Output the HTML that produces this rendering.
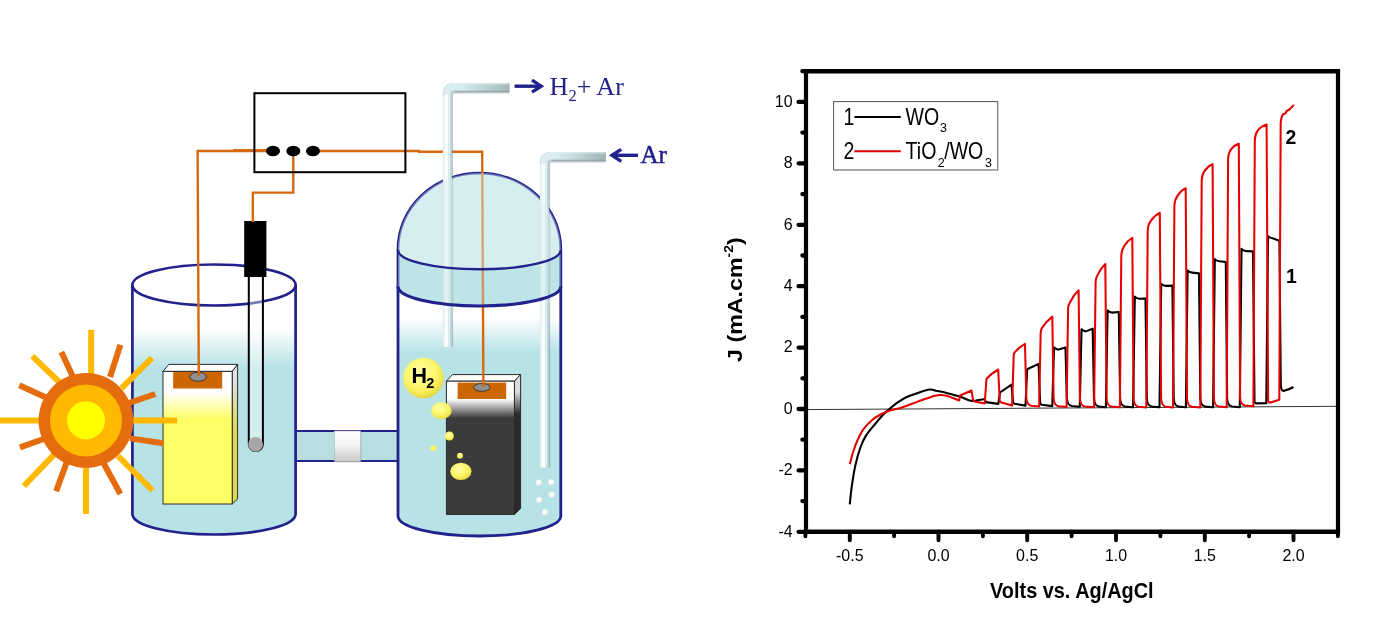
<!DOCTYPE html>
<html lang="en"><head><meta charset="utf-8"><title>Photoelectrochemical cell and J-V curves</title>
<style>html,body{margin:0;padding:0;background:#fff;}body{width:1388px;height:627px;overflow:hidden;font-family:"Liberation Sans",sans-serif;}svg{display:block;}text{font-family:"Liberation Sans",sans-serif;}.serif{font-family:"Liberation Serif",serif;}</style>
</head><body>
<svg width="1388" height="627" viewBox="0 0 1388 627">
<defs>
<linearGradient id="gWaterL" gradientUnits="userSpaceOnUse" x1="0" y1="328" x2="0" y2="368"><stop offset="0" stop-color="#ffffff"/><stop offset="1" stop-color="#b7e3e7"/></linearGradient>
<linearGradient id="gWaterR" gradientUnits="userSpaceOnUse" x1="0" y1="318" x2="0" y2="352"><stop offset="0" stop-color="#ffffff"/><stop offset="1" stop-color="#b7e3e7"/></linearGradient>
<linearGradient id="gYellow" gradientUnits="userSpaceOnUse" x1="0" y1="392" x2="0" y2="420"><stop offset="0" stop-color="#ffffff"/><stop offset="1" stop-color="#ffff66"/></linearGradient>
<linearGradient id="gYellowS" gradientUnits="userSpaceOnUse" x1="0" y1="385" x2="0" y2="430"><stop offset="0" stop-color="#e0e0e0"/><stop offset="1" stop-color="#dcd84e"/></linearGradient>
<linearGradient id="gDark" gradientUnits="userSpaceOnUse" x1="0" y1="399" x2="0" y2="418"><stop offset="0" stop-color="#ffffff"/><stop offset="1" stop-color="#3b3b3b"/></linearGradient>
<linearGradient id="gDarkS" gradientUnits="userSpaceOnUse" x1="0" y1="392" x2="0" y2="414"><stop offset="0" stop-color="#dcdcdc"/><stop offset="1" stop-color="#2a2a2a"/></linearGradient>
<linearGradient id="gMem" x1="0" y1="0" x2="0" y2="1"><stop offset="0" stop-color="#ffffff"/><stop offset="0.45" stop-color="#f4f4f4"/><stop offset="1" stop-color="#c9c9c9"/></linearGradient>
<linearGradient id="gTubeH1" gradientUnits="userSpaceOnUse" x1="451" y1="0" x2="509" y2="0"><stop offset="0" stop-color="#d3ebef" stop-opacity="0"/><stop offset="0.25" stop-color="#cfe6ea" stop-opacity="0.9"/><stop offset="1" stop-color="#a3b8b9"/></linearGradient>
<linearGradient id="gTubeH2" gradientUnits="userSpaceOnUse" x1="548" y1="0" x2="606" y2="0"><stop offset="0" stop-color="#d3ebef" stop-opacity="0"/><stop offset="0.25" stop-color="#cfe6ea" stop-opacity="0.9"/><stop offset="1" stop-color="#9db2b3"/></linearGradient>
<linearGradient id="gTubeV" x1="0" y1="0" x2="1" y2="0"><stop offset="0" stop-color="#d9e6ea"/><stop offset="0.35" stop-color="#ffffff"/><stop offset="0.7" stop-color="#dff0f3"/><stop offset="1" stop-color="#b4c9cf"/></linearGradient>
<radialGradient id="gBub" cx="0.42" cy="0.36" r="0.68"><stop offset="0" stop-color="#ffffa6"/><stop offset="0.6" stop-color="#fbf467"/><stop offset="0.88" stop-color="#eedf48"/><stop offset="1" stop-color="#d9c93c"/></radialGradient>
<radialGradient id="gWB" cx="0.38" cy="0.36" r="0.75"><stop offset="0" stop-color="#ffffff"/><stop offset="0.6" stop-color="#f4f6f6"/><stop offset="1" stop-color="#c4cfd1"/></radialGradient>
<filter id="jpg" filterUnits="userSpaceOnUse" x="0" y="0" width="1388" height="627"><feGaussianBlur stdDeviation="0.42"/></filter>
<filter id="soft" x="-20%" y="-20%" width="140%" height="140%"><feGaussianBlur stdDeviation="0.6"/></filter>
</defs>
<rect x="0" y="0" width="1388" height="627" fill="#ffffff"/>
<g filter="url(#jpg)">
<g id="cell">
<path d="M132.4,285 L132.4,514 A81.60000000000001,20.5 0 0 0 295.6,514 L295.6,285 Z" fill="url(#gWaterL)"/>
<rect x="295.6" y="431" width="102.39999999999998" height="30" fill="#b9dee2"/>
<path d="M295.6,431 H398 M295.6,461 H398" stroke="#21218c" stroke-width="2" fill="none"/>
<rect x="335.4" y="432.4" width="26" height="30" fill="#8c8c8c" opacity="0.45" filter="url(#soft)"/>
<rect x="334.6" y="431" width="26" height="30.4" fill="url(#gMem)" stroke="#b5b5b5" stroke-width="0.6"/>
<path d="M132.4,285 L132.4,514 A81.60000000000001,20.5 0 0 0 295.6,514 L295.6,285" fill="none" stroke="#21218c" stroke-width="2.7"/>
<ellipse cx="214.0" cy="285" rx="81.60000000000001" ry="20.5" fill="#ffffff" stroke="#21218c" stroke-width="2.7"/>
<path d="M163,371.4 L168.8,364.4 L237.6,364.4 L232.2,371.4 Z" fill="#ffffff" stroke="#2a2a2a" stroke-width="1"/>
<path d="M232.2,371.4 L237.6,364.4 L237.6,499 L232.2,504 Z" fill="url(#gYellowS)" stroke="#2a2a2a" stroke-width="1"/>
<rect x="163" y="371.4" width="69.2" height="132.6" fill="url(#gYellow)" stroke="#2a2a2a" stroke-width="1"/>
<rect x="173.2" y="372" width="49" height="16.5" fill="#cc6600"/>
<ellipse cx="198.1" cy="376.8" rx="8.5" ry="4.4" fill="#8f8f8f" stroke="#3a3a3a" stroke-width="1"/>
<path d="M248.8,276 L248.8,444 A6.2,6.2 0 0 0 262.9,444 L262.9,276" fill="#ffffff" fill-opacity="0.4" stroke="#000" stroke-width="2"/>
<circle cx="255.6" cy="444.3" r="7.4" fill="#a6a6a6"/>
<rect x="244.2" y="221" width="22.2" height="56" fill="#000"/>
<path d="M398.0,285.5 L398.0,516 A81.39999999999998,20 0 0 0 560.8,516 L560.8,285.5 A81.39999999999998,19.5 0 0 1 398.0,285.5 Z" fill="url(#gWaterR)"/>
<path d="M398.0,249 A81.39999999999998,19.3 0 0 0 560.8,249 L560.8,285.5 A81.39999999999998,19.5 0 0 1 398.0,285.5 Z" fill="#bde4e7"/>
<path d="M398.0,249 A81.39999999999998,76 0 0 1 560.8,249 A81.39999999999998,19.3 0 0 1 398.0,249 Z" fill="#d6eef0"/>
<path d="M398.0,249 A81.39999999999998,76 0 0 1 560.8,249" fill="none" stroke="#21218c" stroke-width="2.7"/>
<path d="M398.0,249 L398.0,516 A81.39999999999998,20 0 0 0 560.8,516 L560.8,249" fill="none" stroke="#21218c" stroke-width="2.8"/>
<path d="M446.4,381.2 L452.4,374.6 L520.6,374.6 L514.4,381.2 Z" fill="#ffffff" stroke="#2a2a2a" stroke-width="1"/>
<path d="M514.4,381.2 L520.6,374.6 L520.6,508.6 L514.4,514.4 Z" fill="url(#gDarkS)" stroke="#2a2a2a" stroke-width="1"/>
<rect x="446.4" y="381.2" width="68" height="133.2" fill="url(#gDark)" stroke="#2a2a2a" stroke-width="1"/>
<rect x="457.6" y="382.6" width="48.6" height="16.4" fill="#cc6600"/>
<ellipse cx="481.9" cy="387.4" rx="8.2" ry="3.9" fill="#8f8f8f" stroke="#3a3a3a" stroke-width="1"/>
<g fill="none" stroke="#d8680e" stroke-width="2.4" stroke-linejoin="miter">
<path d="M268,151 L197.6,151 L198.8,376"/>
<path d="M233,150.4 L268,150.4" stroke-width="2.6"/>
<path d="M293.3,151 L293.3,192.6 L252.8,192.6 L252.8,222"/>
<path d="M320,151 L419,151 L419,151.8 L482.2,151.8 L483.4,387"/>
</g>
<rect x="254.4" y="93.2" width="151" height="79" fill="none" stroke="#000" stroke-width="2"/>
<ellipse cx="273" cy="151" rx="7" ry="5.3" fill="#000"/><ellipse cx="293.3" cy="151" rx="7" ry="5.3" fill="#000"/><ellipse cx="313" cy="151" rx="7" ry="5.3" fill="#000"/>
<path d="M509.4,88.9 H454.59999999999997 Q448.59999999999997,88.9 448.59999999999997,94.9 V346.8" fill="none" stroke="#5f7278" stroke-width="9" opacity="0.4" filter="url(#soft)"/>
<path d="M509.4,87.5 H453.4 Q447.4,87.5 447.4,93.5 V346.8" fill="none" stroke="#bdd1d7" stroke-width="9"/>
<path d="M509.4,87.1 H452.9 Q446.9,87.1 446.9,93.1 V346.8" fill="none" stroke="#dcedf1" stroke-width="6.8"/>
<path d="M446.2,94.5 V346.8" fill="none" stroke="#fbfefe" stroke-width="3.4"/>
<path d="M443.79999999999995,95.5 V346.8" fill="none" stroke="#e9f1f3" stroke-width="1.4"/>
<rect x="451.4" y="83.0" width="58.0" height="9" fill="url(#gTubeH1)"/>
<path d="M452.4,83.9 H508.9" stroke="#eaf5f7" stroke-width="1.3" opacity="0.7"/>
<path d="M454.4,91.4 H509.4" stroke="#879b9f" stroke-width="1.3" opacity="0.7"/>
<path d="M605.8,157.9 H551.6 Q545.6,157.9 545.6,163.9 V467.4" fill="none" stroke="#5f7278" stroke-width="9" opacity="0.4" filter="url(#soft)"/>
<path d="M605.8,156.5 H550.4 Q544.4,156.5 544.4,162.5 V467.4" fill="none" stroke="#bdd1d7" stroke-width="9"/>
<path d="M605.8,156.1 H549.9 Q543.9,156.1 543.9,162.1 V467.4" fill="none" stroke="#dcedf1" stroke-width="6.8"/>
<path d="M543.1999999999999,163.5 V467.4" fill="none" stroke="#fbfefe" stroke-width="3.4"/>
<path d="M540.8,164.5 V467.4" fill="none" stroke="#e9f1f3" stroke-width="1.4"/>
<rect x="548.4" y="152.0" width="57.39999999999998" height="9" fill="url(#gTubeH2)"/>
<path d="M549.4,152.9 H605.3" stroke="#eaf5f7" stroke-width="1.3" opacity="0.7"/>
<path d="M551.4,160.4 H605.8" stroke="#879b9f" stroke-width="1.3" opacity="0.7"/>
<path d="M398.0,249 A81.39999999999998,76 0 0 1 560.8,249 A81.39999999999998,19.3 0 0 1 398.0,249 Z" fill="#d6eef0" fill-opacity="0.45"/>
<path d="M398.0,249 A81.39999999999998,19.3 0 0 0 560.8,249 L560.8,285.5 A81.39999999999998,19.5 0 0 1 398.0,285.5 Z" fill="#bde4e7" fill-opacity="0.4"/>
<path d="M398.0,250 A81.39999999999998,19.3 0 0 0 560.8,250" fill="none" stroke="#21218c" stroke-width="2.4"/>
<path d="M398.0,286.5 A81.39999999999998,19.5 0 0 0 560.8,286.5" fill="none" stroke="#21218c" stroke-width="3.2"/>
<g fill="none" stroke="#21218c" stroke-width="3.4" stroke-linejoin="miter">
<path d="M514.6,86.2 H541"/><path d="M532,80.2 L541.2,86.2 L532,92.2"/>
<path d="M638,155.3 H612"/><path d="M621.2,149.3 L612,155.3 L621.2,161.3"/>
</g>
<text class="serif" x="549.6" y="95.4" font-size="26" fill="#21218c">H<tspan font-size="16.5" dy="5.5">2</tspan><tspan dy="-5.5">+ Ar</tspan></text>
<text class="serif" x="640.4" y="163.4" font-size="25" fill="#21218c" stroke="#21218c" stroke-width="0.5">Ar</text>
<circle cx="423.4" cy="378" r="20.2" fill="url(#gBub)"/>
<text x="411.4" y="383.4" font-size="21.5" font-weight="bold" fill="#000">H<tspan font-size="14.5" dy="4.6" dx="-0.6">2</tspan></text>
<ellipse cx="441.4" cy="410.8" rx="10.3" ry="8.5" fill="url(#gBub)"/>
<circle cx="449.4" cy="436" r="4.5" fill="url(#gBub)"/>
<circle cx="433.3" cy="448.2" r="3" fill="#fbf56a"/>
<circle cx="460" cy="455.8" r="3" fill="url(#gBub)"/>
<ellipse cx="460.9" cy="471.3" rx="10.6" ry="8.6" fill="url(#gBub)"/>
<circle cx="538.9" cy="482.7" r="3.2" fill="url(#gWB)"/>
<circle cx="551.5" cy="482.4" r="3.2" fill="url(#gWB)"/>
<circle cx="551.9" cy="495.0" r="3.2" fill="url(#gWB)"/>
<circle cx="539.4" cy="500.2" r="3.2" fill="url(#gWB)"/>
<circle cx="545.1" cy="512.4" r="3.2" fill="url(#gWB)"/>
<line x1="91.2" y1="375" x2="91.2" y2="329.8" stroke="#ffb900" stroke-width="6"/>
<line x1="110.0" y1="377" x2="120.4" y2="344.9" stroke="#e46c0a" stroke-width="6"/>
<line x1="121.5" y1="388.3" x2="152" y2="357.9" stroke="#ffb900" stroke-width="6"/>
<line x1="129" y1="403" x2="155.4" y2="394" stroke="#e46c0a" stroke-width="6"/>
<line x1="131" y1="420.4" x2="177.2" y2="420.4" stroke="#ffb900" stroke-width="6"/>
<line x1="130" y1="438.4" x2="163.2" y2="443.2" stroke="#e46c0a" stroke-width="6"/>
<line x1="118" y1="456" x2="152.6" y2="490.5" stroke="#ffb900" stroke-width="6"/>
<line x1="103.5" y1="463" x2="120.4" y2="494" stroke="#e46c0a" stroke-width="6"/>
<line x1="86" y1="466" x2="86" y2="514" stroke="#ffb900" stroke-width="6"/>
<line x1="66.8" y1="462" x2="56.1" y2="491.2" stroke="#e46c0a" stroke-width="6"/>
<line x1="54" y1="454.6" x2="23.9" y2="486" stroke="#ffb900" stroke-width="6"/>
<line x1="45" y1="438.5" x2="20" y2="447.4" stroke="#e46c0a" stroke-width="6"/>
<line x1="41" y1="420.4" x2="0" y2="420.4" stroke="#ffb900" stroke-width="6"/>
<line x1="46" y1="397.5" x2="19.3" y2="385.3" stroke="#e46c0a" stroke-width="6"/>
<line x1="59.2" y1="382" x2="32.3" y2="356.1" stroke="#ffb900" stroke-width="6"/>
<line x1="72.8" y1="376.6" x2="61.4" y2="351.9" stroke="#e46c0a" stroke-width="6"/>
<circle cx="86.0" cy="420.4" r="47.4" fill="#e46c0a"/>
<circle cx="86.0" cy="420.4" r="36" fill="#ffb900"/>
<circle cx="86.0" cy="420.4" r="19" fill="#ffff00"/>
</g>
<g id="chart">
<line x1="806.0" y1="409.6" x2="1338.0" y2="406.3" stroke="#333" stroke-width="1"/>
<path d="M849.8,504.3 C850.1,501.3 850.9,492.6 851.8,486.2 C852.7,479.8 853.8,472.6 855.2,466.1 C856.6,459.7 858.6,452.6 860.4,447.5 C862.2,442.4 863.7,439.2 866.1,435.4 C868.5,431.6 871.8,428.0 874.7,424.5 C877.6,421.0 880.8,417.2 883.4,414.5 C886.0,411.8 888.1,410.1 890.5,408.1 C892.9,406.1 895.1,404.2 897.7,402.4 C900.3,400.6 902.9,398.8 906.3,397.2 C909.6,395.6 913.9,394.2 917.8,392.9 C921.7,391.6 926.8,389.9 929.8,389.5 C932.8,389.1 933.2,390.1 936.0,390.7 C938.8,391.3 942.6,391.9 946.5,392.9 C950.4,393.9 955.4,395.2 959.5,396.5 C963.6,397.8 968.1,400.2 971.0,400.8 C973.9,401.4 974.7,400.7 977.0,400.4 C979.3,400.1 983.3,399.2 984.6,399.0 L985.9,402.1 L998.3,403.9 L1000.0,392.5 L1011.5,384.6 L1013.0,401.8 Q1013.3,403.4 1014.6,403.8 L1025.5,405.6 L1027.2,369.2 L1038.6,363.9 L1040.1,402.7 Q1040.4,404.3 1041.7,404.7 L1052.3,406.1 L1054.0,347.4 Q1055.4,349.4 1058.6,349.6 L1065.5,347.6 L1066.8,398.1 C1067.3,404.1 1069.0,405.4 1071.8,406.0 L1079.8,406.7 L1081.5,329.2 Q1082.9,331.2 1086.0,331.4 L1092.7,328.6 L1094.0,398.6 C1094.5,404.6 1096.2,405.9 1099.0,406.5 L1105.9,407.2 L1107.6,310.4 Q1109.0,312.4 1112.1,312.6 L1118.8,312.0 L1120.1,398.7 C1120.6,404.7 1122.3,406.0 1125.1,406.6 L1133.1,407.3 L1134.8,296.5 Q1136.2,298.5 1139.1,298.7 L1145.5,298.6 L1146.8,398.7 C1147.3,404.7 1149.0,406.0 1151.8,406.6 L1159.5,407.3 L1161.2,283.7 Q1162.6,285.7 1165.7,285.9 L1172.4,285.6 L1173.7,398.7 C1174.2,404.7 1175.9,406.0 1178.7,406.6 L1185.9,407.3 L1187.6,270.4 Q1189.0,272.4 1192.2,272.6 L1199.0,273.4 L1200.3,398.7 C1200.8,404.7 1202.5,406.0 1205.3,406.6 L1213.1,407.3 L1214.8,259.0 Q1216.2,261.0 1219.2,261.2 L1225.8,262.0 L1227.1,398.6 C1227.6,404.6 1229.3,405.9 1232.1,406.5 L1239.8,407.2 L1241.5,248.9 Q1242.9,250.9 1246.1,251.1 L1253.0,251.4 L1254.5,401.4 Q1254.8,403.0 1256.1,403.4 L1266.3,403.3 L1268.0,236.0 Q1269.4,238.0 1272.6,238.2 L1279.4,240.8 L1280.8,385.0 Q1281.2,391.6 1284.2,390.8 Q1289.5,389.4 1293.4,387.0" fill="none" stroke="#000" stroke-width="2.1" stroke-linejoin="round"/>
<path d="M849.8,464.1 C850.4,462.1 851.9,455.8 853.2,451.8 C854.5,447.8 855.8,444.0 857.5,440.3 C859.2,436.6 860.9,432.8 863.3,429.4 C865.7,426.0 869.0,422.7 871.9,420.2 C874.8,417.7 877.6,416.1 880.5,414.5 C883.4,412.9 885.8,411.8 889.1,410.7 C892.5,409.6 896.8,409.0 900.6,407.9 C904.4,406.8 908.2,405.2 912.0,403.8 C915.8,402.4 919.7,400.8 923.5,399.5 C927.3,398.2 932.1,396.6 935.0,395.8 C937.9,395.0 938.9,394.9 940.8,394.9 C942.7,394.9 943.4,394.9 946.5,395.8 C949.6,396.7 957.1,399.7 959.2,400.5 L960.1,395.5 L971.5,390.5 L973.0,399.6 Q973.3,401.2 974.6,401.6 L984.7,403.4 L986.4,380.0 Q986.5,379.1 986.8,378.5 Q991.7,373.3 998.2,369.5 L999.7,400.5 Q1000.0,402.1 1001.3,402.5 L1012.1,405.6 L1013.7,355.2 Q1013.9,353.3 1014.6,352.3 Q1019.0,347.2 1025.0,343.9 L1026.3,397.9 C1026.8,403.9 1028.5,405.2 1031.3,405.8 L1039.1,406.5 L1040.7,332.2 Q1040.9,329.5 1042.0,327.9 Q1046.3,321.2 1052.3,316.6 L1053.6,398.3 C1054.1,404.3 1055.8,405.6 1058.6,406.2 L1066.6,406.9 L1068.1,308.1 Q1068.4,304.5 1069.9,302.5 Q1073.4,295.2 1078.6,290.3 L1079.9,398.6 C1080.4,404.6 1082.1,405.9 1084.9,406.5 L1094.1,407.2 L1095.6,281.8 Q1095.9,277.3 1097.8,274.7 Q1100.7,268.1 1105.3,264.0 L1106.6,398.7 C1107.1,404.7 1108.8,406.0 1111.6,406.6 L1119.9,407.3 L1121.3,255.0 Q1121.7,249.4 1124.0,246.3 Q1127.4,240.7 1132.3,237.9 L1133.6,398.8 C1134.1,404.8 1135.8,406.1 1138.6,406.7 L1146.3,407.4 L1147.7,230.5 Q1148.1,224.5 1150.6,221.1 Q1154.4,215.5 1159.8,212.9 L1161.1,398.8 C1161.6,404.8 1163.3,406.1 1166.1,406.7 L1173.0,407.4 L1174.4,205.5 Q1174.8,199.5 1177.3,196.1 Q1180.7,190.6 1185.7,188.2 L1187.0,398.8 C1187.5,404.8 1189.2,406.1 1192.0,406.7 L1200.3,407.4 L1201.7,180.3 Q1202.1,174.3 1204.6,170.9 Q1207.8,166.0 1212.6,164.1 L1213.9,398.7 C1214.4,404.7 1216.1,406.0 1218.9,406.6 L1226.7,407.3 L1228.1,158.7 Q1228.5,152.7 1231.0,149.3 Q1234.1,145.0 1238.8,143.7 L1240.1,397.7 C1240.6,403.7 1242.3,405.0 1245.1,405.6 L1253.4,406.3 L1254.8,140.0 Q1255.2,134.0 1257.7,130.6 Q1261.3,126.0 1266.6,124.5 L1268.1,400.7 Q1268.4,402.3 1269.7,402.7 L1279.3,399.8 L1280.7,123.4 Q1281.1,115.9 1283.4,113.9 L1285.6,113.2 L1286.6,111.0 L1289.2,109.8 L1293.9,104.9" fill="none" stroke="#e40000" stroke-width="2.05" stroke-linejoin="round"/>
<path d="M803.9,71.2 H1340.1 M803.9,531.8 H1340.1" stroke="#000" stroke-width="4.6" fill="none"/>
<path d="M806.0,71.2 V531.8 M1338.0,71.2 V531.8" stroke="#000" stroke-width="4.2" fill="none"/>
<path d="M805.4,531.8 V536.1999999999999 M849.8,531.8 V540.1999999999999 M894.1,531.8 V536.1999999999999 M938.5,531.8 V540.1999999999999 M982.9,531.8 V536.1999999999999 M1027.2,531.8 V540.1999999999999 M1071.6,531.8 V536.1999999999999 M1116.0,531.8 V540.1999999999999 M1160.4,531.8 V536.1999999999999 M1204.8,531.8 V540.1999999999999 M1249.1,531.8 V536.1999999999999 M1293.5,531.8 V540.1999999999999 M1337.9,531.8 V536.1999999999999" stroke="#000" stroke-width="3.9" stroke-linecap="round" fill="none"/>
<path d="M806.0,531.8 H798.6 M806.0,501.1 H802.4 M806.0,470.4 H798.6 M806.0,439.7 H802.4 M806.0,409.0 H798.6 M806.0,378.3 H802.4 M806.0,347.6 H798.6 M806.0,316.9 H802.4 M806.0,286.2 H798.6 M806.0,255.5 H802.4 M806.0,224.8 H798.6 M806.0,194.1 H802.4 M806.0,163.3 H798.6 M806.0,132.6 H802.4 M806.0,101.9 H798.6 M806.0,71.2 H802.4" stroke="#000" stroke-width="4.3" stroke-linecap="round" fill="none"/>
<text transform="translate(849.8,560.7) scale(0.94,1)" font-size="17" text-anchor="middle" fill="#000">-0.5</text>
<text transform="translate(938.5,560.7) scale(0.94,1)" font-size="17" text-anchor="middle" fill="#000">0.0</text>
<text transform="translate(1027.2,560.7) scale(0.94,1)" font-size="17" text-anchor="middle" fill="#000">0.5</text>
<text transform="translate(1116.0,560.7) scale(0.94,1)" font-size="17" text-anchor="middle" fill="#000">1.0</text>
<text transform="translate(1204.8,560.7) scale(0.94,1)" font-size="17" text-anchor="middle" fill="#000">1.5</text>
<text transform="translate(1293.5,560.7) scale(0.94,1)" font-size="17" text-anchor="middle" fill="#000">2.0</text>
<text transform="translate(792.6,536.6) scale(0.94,1)" font-size="17" text-anchor="end" fill="#000">-4</text>
<text transform="translate(792.6,475.2) scale(0.94,1)" font-size="17" text-anchor="end" fill="#000">-2</text>
<text transform="translate(792.6,413.8) scale(0.94,1)" font-size="17" text-anchor="end" fill="#000">0</text>
<text transform="translate(792.6,352.4) scale(0.94,1)" font-size="17" text-anchor="end" fill="#000">2</text>
<text transform="translate(792.6,291.0) scale(0.94,1)" font-size="17" text-anchor="end" fill="#000">4</text>
<text transform="translate(792.6,229.6) scale(0.94,1)" font-size="17" text-anchor="end" fill="#000">6</text>
<text transform="translate(792.6,168.1) scale(0.94,1)" font-size="17" text-anchor="end" fill="#000">8</text>
<text transform="translate(792.6,106.7) scale(0.94,1)" font-size="17" text-anchor="end" fill="#000">10</text>
<text transform="translate(1071.8,597.6) scale(0.888,1)" font-size="22.4" font-weight="bold" text-anchor="middle" fill="#000">Volts vs. Ag/AgCl</text>
<text transform="translate(742.2,299.6) rotate(-90) scale(1,0.88)" font-size="23.2" font-weight="bold" text-anchor="middle" fill="#000">J (mA.cm<tspan font-size="14" dy="-10">-2</tspan><tspan dy="10">)</tspan></text>
<rect x="833.6" y="101.6" width="164.2" height="68.4" fill="#ffffff" stroke="#555" stroke-width="1"/>
<line x1="854.4" y1="116.9" x2="900.8" y2="116.9" stroke="#000" stroke-width="2"/>
<line x1="854.4" y1="151.2" x2="900.8" y2="151.2" stroke="#e40000" stroke-width="2"/>
<text transform="translate(843.4,124.7) scale(0.85,1)" font-size="23" fill="#000">1</text>
<text transform="translate(843.4,159) scale(0.85,1)" font-size="23" fill="#000">2</text>
<text transform="translate(905.6,124.7) scale(0.85,1)" font-size="23" fill="#000">WO</text>
<text transform="translate(940,132.4) scale(0.92,1)" font-size="13.6" fill="#000">3</text>
<text transform="translate(905.6,159) scale(0.85,1)" font-size="23" fill="#000">TiO</text>
<text transform="translate(937.8,166.6) scale(0.92,1)" font-size="13.6" fill="#000">2</text>
<text transform="translate(944.2,159) scale(0.85,1)" font-size="23" fill="#000">/WO</text>
<text transform="translate(985,166.6) scale(0.92,1)" font-size="13.6" fill="#000">3</text>
<text x="1291" y="144.4" font-size="19.4" font-weight="bold" text-anchor="middle" fill="#000">2</text>
<text x="1291.4" y="282.6" font-size="19.4" font-weight="bold" text-anchor="middle" fill="#000">1</text>
</g>
</g>
</svg>
</body></html>
